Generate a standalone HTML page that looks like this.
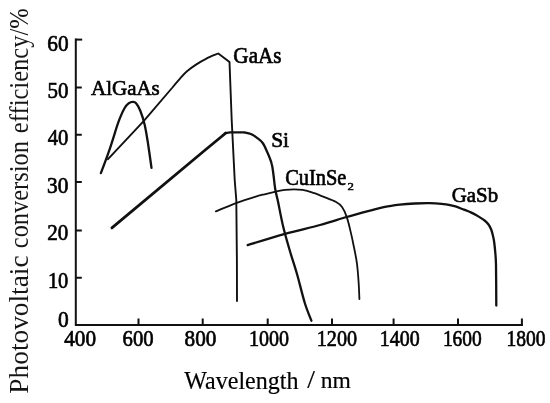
<!DOCTYPE html>
<html><head><meta charset="utf-8">
<style>
html,body{margin:0;padding:0;background:#fff;}
body{width:550px;height:403px;overflow:hidden;position:relative;}
svg{position:absolute;left:0;top:0;display:block;}
text{font-family:"Liberation Serif","Times New Roman",serif;font-size:20px;fill:#000;stroke:#000;}
text.yl{fill:#161616;stroke:none;}
.ax{stroke:#111;fill:none;stroke-width:2;stroke-linecap:butt;}
.cv{stroke:#111;fill:none;stroke-linecap:round;stroke-linejoin:round;}
</style></head><body>
<svg width="550" height="403" viewBox="0 0 550 403">
<rect width="550" height="403" fill="#fff"/>
<path class="ax" stroke-width="2.7" d="M75.8,38.5V326"/>
<path class="ax" stroke-width="2.1" d="M75.8,324.9H522.7"/>
<path class="ax" stroke-width="2.1" d="M75.8,39.6H82.2"/>
<path class="ax" stroke-width="1.6" d="M76,87.6H81.8M76,134.8H81.8M76,181.9H81.8M76,230.4H81.8M76,277.8H81.8"/>
<path class="ax" stroke-width="1.6" d="M138.5,325v-6.6M202.7,325v-6.6M267.7,325v-6.6M332,325v-6.6M393.6,325v-6.6M458,325v-6.6M521.9,325.9v-7.5"/>
<path class="cv" stroke-width="2.3" d="M100.9,173.1C102.4,169.1 106.9,157.2 109.8,148.8C112.7,140.4 115.8,129.4 118.2,122.6C120.7,115.8 122.7,111.4 124.5,108.2C126.3,105.0 127.5,104.2 128.8,103.2C130.2,102.2 131.4,101.9 132.6,101.9C133.8,101.9 134.8,101.7 136.1,103.2C137.4,104.7 139.0,107.5 140.4,111.0C141.8,114.5 143.4,119.4 144.6,124.5C145.8,129.6 146.5,134.2 147.7,141.4C148.8,148.6 150.9,163.4 151.5,167.8"/>
<path class="cv" stroke-width="1.9" d="M108.0,159.2L143.9,120.9L172.0,88.0L172.0,88.0C173.3,86.4 177.5,81.4 180.0,78.6C182.5,75.8 184.3,73.6 187.0,71.3C189.7,69.0 192.8,66.7 196.0,64.6C199.2,62.5 202.3,60.6 206.0,58.8C209.7,56.9 216.2,54.4 218.3,53.5L218.3,53.5L229.5,62.0L231.7,120.0L234.7,180.0L236.3,200.0L236.9,260.0L237.0,301.0"/>
<path class="cv" stroke-width="2.8" d="M111.9,227.9L205.2,150.0L221.0,137.0L225.6,133.1"/>
<path class="cv" stroke-width="2.3" d="M225.6,133.1L230.0,132.3L244.0,132.3L244.0,132.3C245.1,132.6 248.6,133.1 250.8,134.0C253.0,134.9 255.0,136.3 257.0,137.8C259.0,139.3 261.0,140.6 262.7,143.0C264.4,145.4 265.7,148.6 267.2,152.0C268.7,155.4 270.6,159.7 271.6,163.5C272.7,167.3 272.9,170.6 273.5,175.0C274.1,179.4 274.6,185.6 275.4,190.0C276.1,194.4 276.7,195.2 278.0,201.5C279.3,207.8 281.3,219.0 283.4,227.6C285.5,236.2 288.2,245.3 290.5,253.0C292.8,260.7 294.6,265.7 297.0,274.0C299.4,282.3 302.4,295.2 304.8,303.0C307.2,310.8 310.3,317.8 311.4,320.7"/>
<path class="cv" stroke-width="1.8" d="M215.9,211.3C219.4,209.9 230.2,205.2 236.7,202.8C243.2,200.4 250.4,198.2 255.0,196.8C259.6,195.4 261.2,195.1 264.5,194.3C267.8,193.5 271.4,192.6 274.8,191.8C278.2,191.1 280.4,190.1 285.0,189.8C289.6,189.5 297.7,189.3 302.6,189.9C307.5,190.5 311.0,192.0 314.5,193.2C318.0,194.4 320.3,195.5 323.8,196.9C327.3,198.3 332.6,200.1 335.7,201.8C338.8,203.5 340.4,204.7 342.2,207.2C344.0,209.7 345.3,212.8 346.7,216.9C348.1,221.0 349.5,226.8 350.6,231.6C351.8,236.4 352.6,240.2 353.6,245.5C354.7,250.8 356.1,257.1 356.9,263.2C357.7,269.3 358.2,276.0 358.6,282.0C359.0,288.0 359.3,296.2 359.4,299.0"/>
<path class="cv" stroke-width="2.3" d="M247.7,245.1C253.9,243.2 272.9,237.2 285.0,233.8C297.1,230.5 309.7,227.8 320.0,225.0C330.3,222.2 338.3,219.4 346.6,217.0C354.9,214.6 363.6,212.3 370.0,210.6C376.4,208.9 379.9,207.8 384.9,206.8C389.9,205.8 394.8,205.2 399.8,204.6C404.8,204.0 409.7,203.7 414.7,203.5C419.7,203.3 425.1,203.1 429.6,203.2C434.1,203.3 438.3,203.6 441.5,203.9C444.7,204.2 446.7,204.4 449.0,204.8C451.3,205.2 453.0,205.6 455.5,206.4C458.0,207.2 461.6,208.8 464.0,209.7C466.4,210.6 468.0,211.1 470.0,212.0C472.0,212.9 473.6,213.6 476.0,215.0C478.4,216.4 482.5,218.9 484.6,220.5C486.7,222.1 487.4,223.0 488.5,224.5C489.6,226.0 490.4,227.6 491.2,229.5C491.9,231.4 492.5,233.8 493.0,236.0C493.5,238.2 493.9,239.8 494.3,243.0C494.7,246.2 495.2,251.3 495.5,255.0C495.8,258.7 495.9,260.0 496.0,265.0C496.1,270.0 496.1,278.2 496.2,285.0C496.2,291.8 496.3,302.2 496.3,305.6"/>
<text stroke-width="0.6" transform="translate(47.33,50.54) scale(1.067,1.149)">60</text>
<text stroke-width="0.6" transform="translate(47.42,97.85) scale(1.047,1.127)">50</text>
<text stroke-width="0.6" transform="translate(47.68,145.14) scale(1.033,1.149)">40</text>
<text stroke-width="0.6" transform="translate(47.00,192.83) scale(1.068,1.171)">30</text>
<text stroke-width="0.6" transform="translate(47.34,240.15) scale(1.051,1.105)">20</text>
<text stroke-width="0.6" transform="translate(47.90,288.14) scale(1.022,1.164)">10</text>
<text stroke-width="0.6" transform="translate(57.93,326.94) scale(1.074,1.142)">0</text>
<text stroke-width="0.6" transform="translate(64.17,346.43) scale(1.063,1.171)">400</text>
<text stroke-width="0.6" transform="translate(122.55,346.24) scale(1.037,1.149)">600</text>
<text stroke-width="0.6" transform="translate(184.54,346.24) scale(1.061,1.149)">800</text>
<text stroke-width="0.6" transform="translate(249.03,346.34) scale(1.002,1.164)">1000</text>
<text stroke-width="0.6" transform="translate(316.72,346.24) scale(1.010,1.149)">1200</text>
<text stroke-width="0.6" transform="translate(379.84,346.24) scale(0.997,1.149)">1400</text>
<text stroke-width="0.6" transform="translate(442.88,346.24) scale(0.973,1.149)">1600</text>
<text stroke-width="0.6" transform="translate(506.48,346.24) scale(0.976,1.149)">1800</text>
<text stroke-width="0.6" transform="translate(91.10,94.67) scale(1.048,1.050)">AlGaAs</text>
<text stroke-width="0.6" transform="translate(233.34,62.55) scale(1.060,1.127)">GaAs</text>
<text stroke-width="0.6" transform="translate(271.16,146.66) scale(1.073,1.098)">Si</text>
<text stroke-width="0.6" transform="translate(285.16,185.44) scale(1.021,1.149)">CuInSe</text>
<text stroke-width="0.8" transform="translate(347.50,189.80) scale(0.640,0.499)">2</text>
<text stroke-width="0.6" transform="translate(451.75,201.56) scale(1.044,1.085)">GaSb</text>
<text stroke-width="0.15" transform="translate(184.30,388.72) scale(1.203,1.253)">Wavelength</text>
<text stroke-width="0.15" transform="translate(307.20,388.42) scale(1.387,1.222)">/</text>
<text stroke-width="0.15" transform="translate(320.63,388.40) scale(1.180,1.156)">nm</text>
<text class="yl" style="font-size:25px" transform="translate(28.20,393.63) rotate(-90) scale(1.094,1.120)">Photovoltaic</text>
<text class="yl" style="font-size:25px" transform="translate(28.20,248.16) rotate(-90) scale(0.976,1.120)">conversion</text>
<text class="yl" style="font-size:25px" transform="translate(28.20,133.17) rotate(-90) scale(0.982,1.120)">efficiency/%</text>
</svg>
</body></html>
